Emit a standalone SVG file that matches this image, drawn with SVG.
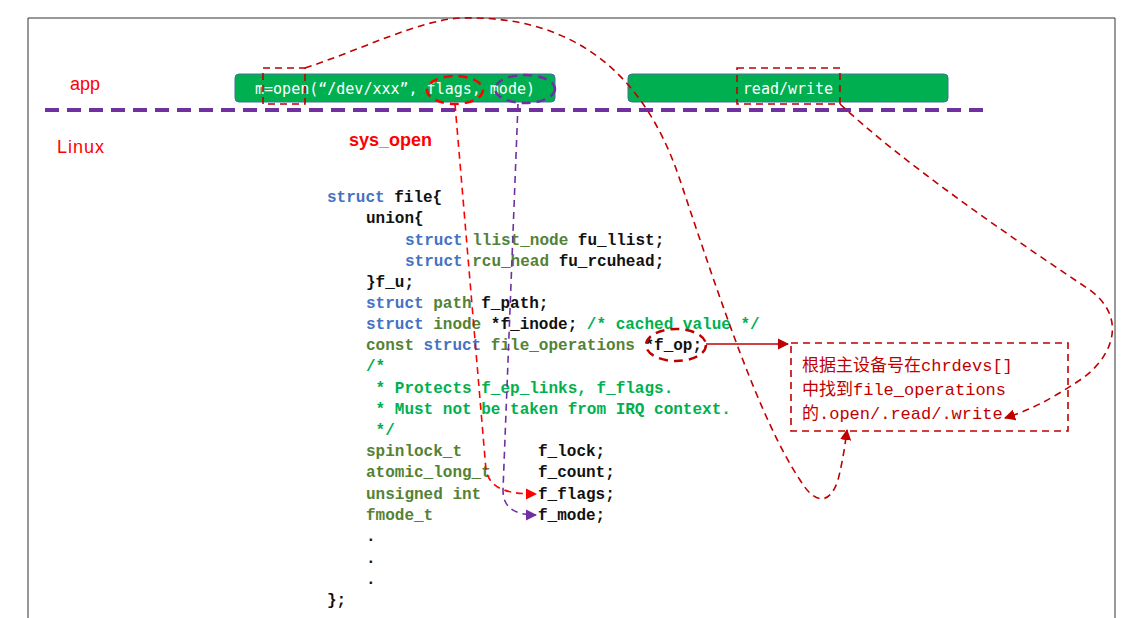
<svg xmlns="http://www.w3.org/2000/svg" width="1121" height="618" viewBox="0 0 1121 618">
<defs>
<style>
.c{font-family:"Liberation Mono","DejaVu Sans Mono",monospace;font-size:16px;font-weight:bold}
.k{fill:#4472c4}.t{fill:#548235}.m{fill:#00b050}.b{fill:#111}
.dr{fill:none;stroke:#c00000;stroke-width:1.6;stroke-dasharray:7 5}
.lbl{font-family:"Liberation Sans","Noto Sans",sans-serif;fill:#ff0000;font-size:18px}
</style>
<marker id="ar" viewBox="0 0 10 10" refX="9" refY="5" markerWidth="7" markerHeight="7" orient="auto"><path d="M0,0L10,5L0,10z" fill="#c00000"/></marker>
<marker id="ap" viewBox="0 0 10 10" refX="9" refY="5" markerWidth="7" markerHeight="7" orient="auto"><path d="M0,0L10,5L0,10z" fill="#7030a0"/></marker>
<marker id="arr" viewBox="0 0 10 10" refX="9" refY="5" markerWidth="7" markerHeight="7" orient="auto"><path d="M0,0L10,5L0,10z" fill="#ff0000"/></marker>
</defs>
<rect width="1121" height="618" fill="#fff"/>
<path d="M28,618V18H1115V618" fill="none" stroke="#333" stroke-width="1"/>
<text class="lbl" x="70" y="90">app</text>
<text class="lbl" x="57" y="153" style="letter-spacing:1px">Linux</text>
<text class="lbl" x="349" y="146" font-weight="bold">sys_open</text>
<line x1="45" y1="110" x2="985" y2="110" stroke="#7030a0" stroke-width="4" stroke-dasharray="14 8"/>
<g id="open-box"><rect x="235" y="74" width="320" height="28" rx="4" fill="#00b050" stroke="#41719c"/>
<text x="395" y="94" text-anchor="middle" font-family="'DejaVu Sans Mono',monospace" font-size="15" fill="#fff">m=open(“/dev/xxx”, flags, mode)</text></g>
<g id="rw-box"><rect x="628" y="74" width="320" height="28" rx="4" fill="#00b050" stroke="#41719c"/>
<text x="788" y="94" text-anchor="middle" font-family="'DejaVu Sans Mono',monospace" font-size="15" fill="#fff">read/write</text></g>
<g id="code" class="c">
<text x="327" y="202"><tspan class="k">struct</tspan><tspan class="b"> file{</tspan></text>
<text x="366" y="223" class="b">union{</text>
<text x="405" y="245"><tspan class="k">struct</tspan><tspan class="t"> llist_node</tspan><tspan class="b"> fu_llist;</tspan></text>
<text x="405" y="266"><tspan class="k">struct</tspan><tspan class="t"> rcu_head</tspan><tspan class="b"> fu_rcuhead;</tspan></text>
<text x="366" y="287" class="b">}f_u;</text>
<text x="366" y="308"><tspan class="k">struct</tspan><tspan class="t"> path</tspan><tspan class="b"> f_path;</tspan></text>
<text x="366" y="329"><tspan class="k">struct</tspan><tspan class="t"> inode</tspan><tspan class="b"> *f_inode;</tspan><tspan class="m"> /* cached value */</tspan></text>
<text x="366" y="350"><tspan class="t">const </tspan><tspan class="k">struct</tspan><tspan class="t"> file_operations</tspan><tspan class="b"> *f_op;</tspan></text>
<text x="366" y="371" class="m">/*</text>
<text x="366" y="393" class="m" xml:space="preserve"> * Protects f_ep_links, f_flags.</text>
<text x="366" y="414" class="m" xml:space="preserve"> * Must not be taken from IRQ context.</text>
<text x="366" y="435" class="m" xml:space="preserve"> */</text>
<text x="366" y="456" class="t">spinlock_t</text><text x="538" y="456" class="b">f_lock;</text>
<text x="366" y="477" class="t">atomic_long_t</text><text x="538" y="477" class="b">f_count;</text>
<text x="366" y="499" class="t">unsigned int</text><text x="538" y="499" class="b">f_flags;</text>
<text x="366" y="520" class="t">fmode_t</text><text x="538" y="520" class="b">f_mode;</text>
<text x="366" y="541" class="b">.</text>
<text x="366" y="563" class="b">.</text>
<text x="366" y="584" class="b">.</text>
<text x="327" y="605" class="b">};</text>
</g>
<g id="note"><rect x="791" y="343" width="277" height="88" class="dr"/>
<g font-family="'Liberation Mono','Noto Sans CJK SC',monospace" font-size="17" fill="#c00000">
<text x="802" y="371">根据主设备号在chrdevs[]</text>
<text x="802" y="395">中找到file_operations</text>
<text x="802" y="419">的.open/.read/.write</text></g></g>
<g id="connectors">
<rect x="263" y="68" width="42" height="36" class="dr"/>
<rect x="737" y="68" width="103" height="36" class="dr"/>
<ellipse cx="455" cy="90" rx="28" ry="14" fill="none" stroke="#ff0000" stroke-width="2.5" stroke-dasharray="9 6"/>
<ellipse cx="525" cy="89" rx="30" ry="14" fill="none" stroke="#7030a0" stroke-width="2.5" stroke-dasharray="9 6"/>
<ellipse cx="676" cy="345" rx="30" ry="16" fill="none" stroke="#c00000" stroke-width="2.5" stroke-dasharray="9 6"/>
<path d="M305,68 C360,50 420,20 460,18 C560,15 640,60 680,180 C720,300 760,420 800,480 C815,505 830,505 838,480 C843,460 845,445 847,430" class="dr" marker-end="url(#ar)"/>
<path d="M840,104 C900,160 1000,230 1090,290 C1130,320 1110,360 1080,380 C1050,400 1030,410 1005,418" class="dr" marker-end="url(#ar)"/>
<path d="M455,104 L486,470 C490,490 510,494 536,494" fill="none" stroke="#ff0000" stroke-width="1.6" stroke-dasharray="7 5" marker-end="url(#arr)"/>
<path d="M518,104 L503,490 C503,508 515,515 536,515" fill="none" stroke="#7030a0" stroke-width="1.6" stroke-dasharray="7 5" marker-end="url(#ap)"/>
<line x1="706" y1="344" x2="788" y2="344" stroke="#c00000" stroke-width="1.6" marker-end="url(#ar)"/>
</g>
</svg>
